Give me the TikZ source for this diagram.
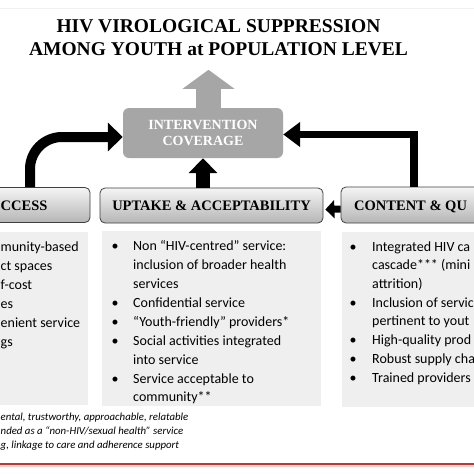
\documentclass[tikz,border=0pt]{standalone}
\usepackage{fontspec}
\setmainfont{Carlito}
\newfontfamily\titlefont{Liberation Serif}
\usetikzlibrary{arrows.meta}
\definecolor{covgray}{HTML}{A6A6A6}
\definecolor{panelgray}{HTML}{EFEFEF}
\definecolor{redline}{HTML}{B83A3A}
\begin{document}
\begin{tikzpicture}[x=1pt,y=-1pt,
  titletext/.style={font=\titlefont\bfseries\fontsize{19.5}{23}\selectfont, inner sep=0pt, anchor=base},
  boxlabel/.style={font=\titlefont\bfseries\fontsize{14.5}{17}\selectfont, inner sep=0pt},
  gradbox/.style={draw=black!75, line width=0.8pt, rounded corners=5pt, top color=gray!8, bottom color=gray!58, inner sep=0pt},
  bodytext/.style={font=\fontsize{14}{19}\selectfont, inner sep=0pt, anchor=base west},
  bulletmark/.style={font=\fontsize{14}{19}\selectfont, inner sep=0pt, anchor=base},
  notetext/.style={font=\itshape\fontsize{10.8}{14}\selectfont, inner sep=0pt, anchor=base west},
  covbox/.style={fill=covgray, rounded corners=6pt, minimum width=160pt, minimum height=50pt, align=center, text=white, font=\titlefont\bfseries\fontsize{14}{16}\selectfont, inner sep=0pt},
  blackarrow/.style={draw=black, line join=miter}
]
\useasboundingbox (0,0) rectangle (474,474);
\fill[white] (0,0) rectangle (474,474);
\draw[gray!12, line width=1pt] (0,8.5) -- (474,8.5);

% title
\node[titletext] (title1) at (218.5,32) {HIV VIROLOGICAL SUPPRESSION};
\node[titletext] (title2) at (218.5,55) {AMONG YOUTH at POPULATION LEVEL};

% panels
\fill[panelgray] (-5,232) rectangle (88,405);
\fill[panelgray] (102,231) rectangle (321,406);
\fill[panelgray] (342,232) rectangle (480,407);

% header boxes
\node[gradbox, minimum width=160pt, minimum height=35pt] (access) at (10,205) {};
\node[boxlabel, anchor=base west] (accesslbl) at (0.5,210.5) {CCESS};
\node[gradbox, boxlabel, minimum width=223pt, minimum height=35pt] (uptake) at (211.5,205.5) {UPTAKE \& ACCEPTABILITY};
\node[gradbox, minimum width=219pt, minimum height=36pt] (content) at (450.5,205) {};
\node[boxlabel, anchor=base west] (contentlbl) at (354,210.5) {CONTENT \& QU};

% intervention coverage
\node[covbox] (interv) at (203,133) {INTERVENTION\\COVERAGE};

% arrows
\draw[covgray, line width=25pt, -{Triangle[length=19pt,width=51pt]}] ([xshift=5.5pt]interv.north) -- ++(0,-38);
\draw[blackarrow, line width=10pt, rounded corners=32pt, -{Triangle[length=15pt,width=28pt]}] ([xshift=20pt]access.north) |- ([yshift=-4pt]interv.west);
\draw[blackarrow, line width=7.5pt, -{Triangle[length=17pt,width=24pt]}] ([xshift=-36.5pt]content.north) |- ([yshift=-1.5pt]interv.east);
\draw[blackarrow, line width=14pt, -{Triangle[length=15pt,width=28pt]}] (uptake.north -| interv.south) -- (interv.south);
\draw[blackarrow, line width=7pt, -{Triangle[length=9pt,width=18pt]}] ([yshift=-4pt]content.west) -- ([xshift=2pt,yshift=-4pt]uptake.east);

% left panel text (as cut at the picture's edge)
\node[bodytext] (l1) at (0.5,251.7) {munity-based};
\node[bodytext] (l2) at (0.5,270.5) {ct spaces};
\node[bodytext] (l3) at (0.5,289) {f-cost};
\node[bodytext] (l4) at (0.5,308) {es};
\node[bodytext] (l5) at (0.5,327.5) {enient service};
\node[bodytext] (l6) at (0.5,346.5) {gs};

% middle panel text
\begin{scope}
\clip (102,231) rectangle (321,405.5);
\foreach \bl/\tx [count=\i] in {
  1/{Non “HIV-centred” service:},
  0/{inclusion of broader health},
  0/{services},
  1/{Confidential service},
  1/{“Youth-friendly” providers*},
  1/{Social activities integrated},
  0/{into service},
  1/{Service acceptable to},
  0/{community**}}{
  \node[bodytext] (m\i) at (133,{250.7+18.9*(\i-1)}) {\tx};
  \ifnum\bl=1 \node[bulletmark] (mb\i) at (115,{250.7+18.9*(\i-1)}) {•};\fi
}
\end{scope}

% right panel text
\foreach \bl/\tx [count=\i] in {
  1/{Integrated HIV ca},
  0/{cascade*** (mini},
  0/{attrition)},
  1/{Inclusion of servic},
  0/{pertinent to yout},
  1/{High-quality prod},
  1/{Robust supply cha},
  1/{Trained providers}}{
  \node[bodytext] (r\i) at (372,{251+18.72*(\i-1)}) {\tx};
  \ifnum\bl=1 \node[bulletmark] (rb\i) at (353,{251+18.72*(\i-1)}) {•};\fi
}

% footnotes
\node[notetext] (n1) at (0.5,420) {ental, trustworthy, approachable, relatable};
\node[notetext] (n2) at (0.5,434) {nded as a “non-HIV/sexual health” service};
\node[notetext] (n3) at (0.5,448) {g, linkage to care and adherence support};

% bottom rule
\draw[red!18, line width=3pt] (0,465.5) -- (474,465.5);
\draw[redline, line width=1.5pt] (0,464) -- (474,464);
\end{tikzpicture}
\end{document}
